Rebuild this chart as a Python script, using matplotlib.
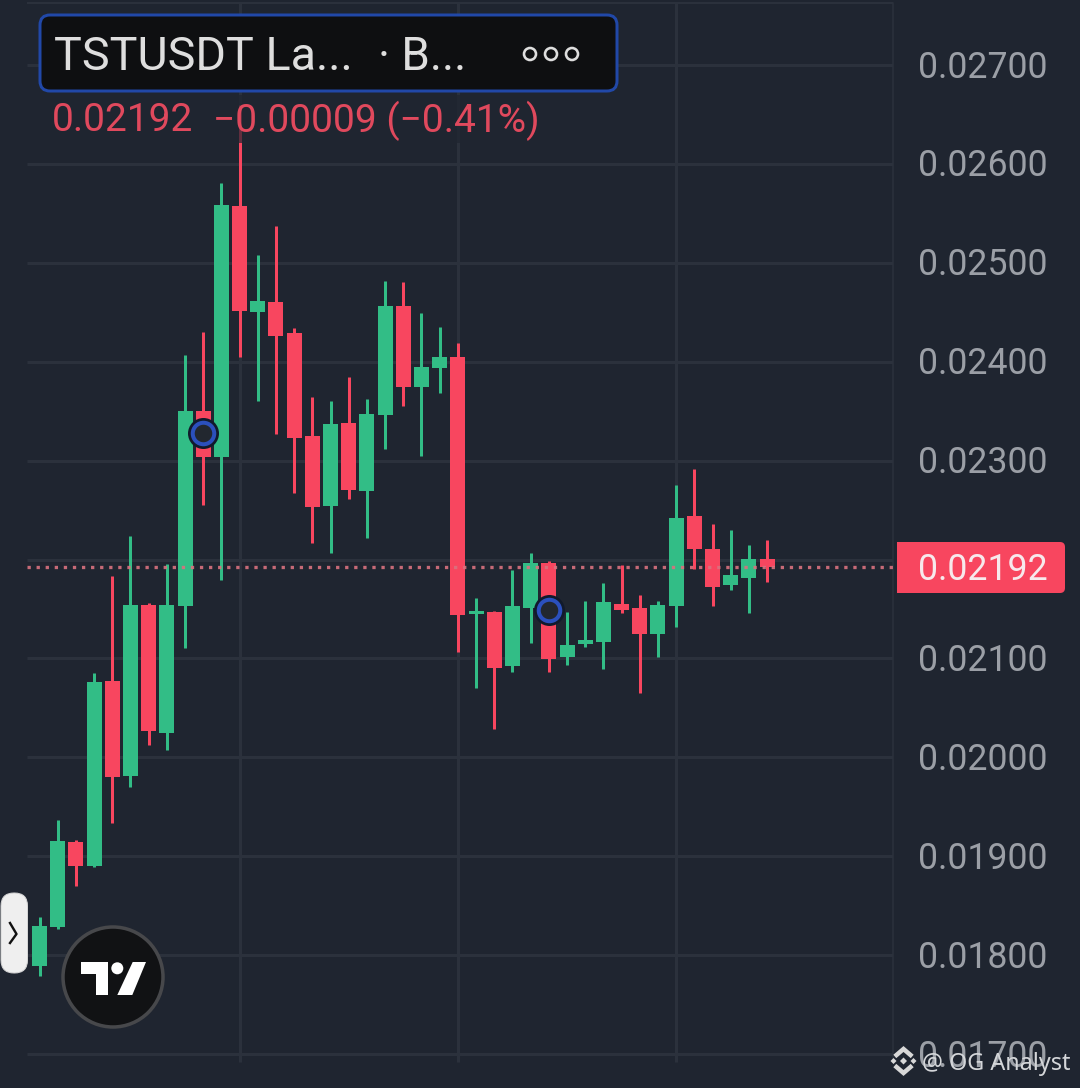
import matplotlib
matplotlib.use("Agg")
import matplotlib.pyplot as plt
from matplotlib.patches import FancyBboxPatch, Circle, Polygon, Rectangle
from matplotlib.transforms import ScaledTranslation

plt.rcParams['font.family'] = ['Roboto', 'DejaVu Sans']

# Prices in units of 1e-5
opens  = [1789,1828,1914,1890,2077,1981,2154,2025,2153,2350,2304,2557,2450,2460,2429,2325,2254,2338,2269,2346,2456,
          2374,2394,2405,2145,2147,2092,2151,2196,2101,2115,2117,2155,2151,2125,2153,2244,2211,2174,2181,2201]
highs  = [1839,1937,1916,2085,2183,2224,2156,2195,2407,2430,2581,2660,2508,2537,2434,2364,2360,2385,2362,2482,2481,
          2449,2435,2419,2161,2148,2189,2207,2198,2147,2158,2176,2194,2164,2158,2275,2292,2236,2230,2215,2220]
lows   = [1779,1826,1870,1889,1934,1970,2012,2007,2111,2255,2179,2405,2360,2327,2267,2217,2207,2261,2222,2312,2355,
          2305,2368,2106,2070,2029,2086,2116,2086,2093,2112,2089,2146,2065,2101,2132,2190,2153,2169,2146,2177]
closes = [1829,1915,1890,2076,1980,2154,2027,2154,2350,2304,2558,2451,2461,2426,2323,2253,2337,2270,2347,2456,2374,
          2395,2405,2144,2148,2090,2153,2196,2099,2114,2119,2157,2149,2125,2154,2242,2211,2172,2184,2201,2192]
yticks = [2700,2600,2500,2400,2300,2200,2100,2000,1900,1800,1700]
ytick_labels = ['0.02700','0.02600','0.02500','0.02400','0.02300','','0.02100','0.02000','0.01900','0.01800','0.01700']
time_grid = [11, 23, 35]
last_price = 2192
event_idx = [9, 28]
event_price = [2328, 2149]

BG = '#1f2530'; GRID = '#2b313c'; GREEN = '#32bd86'; RED = '#f8465f'; LABEL = '#9b9fa6'

W, H = 1080, 1088
fig = plt.figure(figsize=(W/100, H/100), dpi=100, facecolor=BG)
PX = 0.72  # points per pixel
X0, DX = 39.5, 18.19

# main price axes: x px = X0 + DX*i ; y px = 65 + (2700-p)*0.989
ax = fig.add_axes([27/W, 0, (893-27)/W, 1])
ax.set_facecolor(BG)
ax.set_xlim((27-X0)/DX, (893-X0)/DX)
ax.set_ylim(2700-(1088-65)/0.989, 2700+65/0.989)
for s in ['top', 'left', 'bottom']:
    ax.spines[s].set_visible(False)
ax.spines['right'].set_color(GRID)
ax.spines['right'].set_linewidth(1.5*PX)
ax.spines['right'].set_bounds(2700-(1062-65)/0.989, 2700+62/0.989)
ax.set_xticks([])
ax.yaxis.tick_right()
ax.set_yticks(yticks)
ax.set_yticklabels(ytick_labels)
ax.tick_params(axis='y', length=0, pad=26*PX, labelsize=25.7, labelcolor=LABEL)
shift = ScaledTranslation(-1/100, 1.5/100, fig.dpi_scale_trans)
for lab in ax.get_yticklabels():
    lab.set_transform(lab.get_transform() + shift)

ax.set_axisbelow(True)
ax.hlines(yticks, ax.get_xlim()[0], ax.get_xlim()[1], color=GRID, lw=3*PX, zorder=1)
ax.hlines(2700+62/0.989, ax.get_xlim()[0], ax.get_xlim()[1], color=GRID, lw=2*PX, zorder=1)
ax.vlines(time_grid, 2700-(1062-65)/0.989, 2700+62/0.989, color=GRID, lw=3*PX, zorder=1)

for i, (o, h, l, c) in enumerate(zip(opens, highs, lows, closes)):
    col = GREEN if c >= o else RED
    ax.vlines(i, l, h, color=col, lw=3*PX, zorder=3)
    ax.bar(i, abs(c-o), bottom=min(o, c), width=15/DX, color=col, linewidth=0, zorder=3)

ax.axhline(last_price, color='#d9727f', alpha=0.9, lw=3.3*PX, ls=(0, (1, 1.75)), zorder=4)

ax.plot(event_idx, event_price, 'o', ms=31*PX, color='#111a2c', mew=0, zorder=5, ls='none')
ax.plot(event_idx, event_price, 'o', ms=21.5*PX, mfc='#22272f', mec='#2b50bd', mew=4*PX, zorder=6, ls='none')

# overlay in pixel coordinates
ov = fig.add_axes([0, 0, 1, 1])
ov.set_xlim(0, W); ov.set_ylim(H, 0); ov.axis('off'); ov.patch.set_alpha(0)

# header
ov.add_patch(Rectangle((45, 95), 500, 48, fc=BG, ec='none', alpha=0.7, zorder=1))
ov.add_patch(FancyBboxPatch((50, 25), 557, 56, boxstyle='round,pad=10,rounding_size=10',
                            fc='#0e0f11', ec='#2148a8', lw=3*PX, zorder=2))
ov.text(54, 52.5, 'TSTUSDT La...', color='#dedede', fontsize=33.6, va='center_baseline', ha='left', zorder=3)
ov.text(378, 52.5, '· B...', color='#dedede', fontsize=33, va='center_baseline', ha='left', zorder=3)
for cx in [530, 551, 572]:
    ov.add_patch(Circle((cx, 54), 6, fc='none', ec='#dedede', lw=2.6*PX, zorder=3))
ov.text(52, 116.5, '0.02192', color='#e0495d', fontsize=28, va='center_baseline', zorder=3)
ov.text(213, 116.5, '−0.00009 (−0.41%)', color='#e0495d', fontsize=28, va='center_baseline', zorder=3)

# last price tag
ov.add_patch(FancyBboxPatch((902, 547), 158, 41, boxstyle='round,pad=5,rounding_size=5',
                            fc=RED, ec='none', zorder=3))
ov.add_patch(Rectangle((897, 542), 12, 51, fc=RED, ec='none', zorder=3))
ov.text(918.5, 566.5, '0.02192', color='#f7e9ec', fontsize=25.7, va='center_baseline', zorder=4)

# side pill
ov.add_patch(FancyBboxPatch((14, 906), 0.5, 54, boxstyle='round,pad=13,rounding_size=13',
                            fc='#efefef', ec='#d5d5d5', lw=1*PX, zorder=3))
ov.plot([10, 16.5, 10], [923, 934, 943], color='#111111', lw=2.4*PX, zorder=4)

# TradingView badge
ov.add_patch(Circle((113, 977), 50, fc='#111214', ec='#47484b', lw=3.5*PX, zorder=3))
ov.add_patch(Polygon([(81, 962), (108, 962), (108, 995), (96, 995), (96, 974), (81, 974)], fc='white', ec='none', zorder=4))
ov.add_patch(Polygon([(132.7, 962), (146, 962), (132.3, 995), (117.3, 995)], fc='white', ec='none', zorder=4))
ov.add_patch(Circle((117.3, 968.3), 6, fc='white', ec='none', zorder=4))

# Binance mark and watermark
bx, by = 903.5, 1061
LOGO = '#d8d8d8'
def diamond(cx, cy, r):
    ov.add_patch(Polygon([(cx, cy-r), (cx+r, cy), (cx, cy+r), (cx-r, cy)], fc=LOGO, ec='none', zorder=6))
diamond(bx, by, 3.5); diamond(bx-10, by, 3)
diamond(bx+10, by, 3)
ov.plot([bx-7, bx, bx+7], [by-6, by-12, by-6], color=LOGO, lw=4.5*PX, solid_joinstyle='miter', zorder=6)
ov.plot([bx-7, bx, bx+7], [by+6, by+12, by+6], color=LOGO, lw=4.5*PX, solid_joinstyle='miter', zorder=6)
ov.text(922, 1061.5, '@ OG Analyst', color='#d4d6d9', fontsize=16.8, family='Noto Sans',
        va='center_baseline', zorder=6)

fig.savefig('out.png', dpi=100, facecolor=BG)
